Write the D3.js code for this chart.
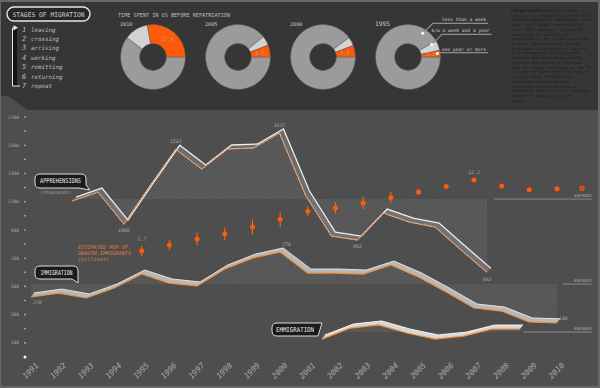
<!DOCTYPE html>
<html><head><meta charset="utf-8">
<script src="https://cdn.jsdelivr.net/npm/d3@7"></script>
<style>body{margin:0;background:#4e4e4e}svg{display:block}</style>
</head><body><svg id="c" width="600" height="388"></svg>
<script>
// ---------------- DATA ----------------
const years = d3.range(1991, 2011);
const stages = ["leaving","crossing","arriving","working","remitting","returning","repeat"];
const donutYears = ["2010","2005","2000","1995"];
const donutGray   = [60.2, 89.3, 89.8, 91.7];
const donutLight  = [12.0, 4.7, 4.4, 5.0];
const donutOrange = [27.8, 6.0, 5.8, 3.3];
const donutLabels = ["27.8","6.0","5.8","5.3"];
const donutKeys = ["less than a week","b/w a week and a year","one year or more"];

const appYears = d3.range(1992, 2009);
const apprehensions = [1161,1224,1000,1266,1523,1385,1525,1532,1637,1203,916,888,1077,1014,979,818,662];
const appAverage = 1175;
const appLabels = [{year:1994,text:"1000",dy:8},{year:1996,text:"1523",dy:-6},{year:2000,text:"1637",dy:-6},{year:2003,text:"992",dy:8},{year:2008,text:"662",dy:9}];

const immigration = [370,405,361,450,574,494,468,619,716,770,583,583,574,654,548,414,272,245,148,140];
const immAverage = 485;
const immLabels = [{year:1991,text:"370",dy:7},{year:2000,text:"770",dy:-6},{year:2010,text:"140",dy:-3}];

const emmYears = d3.range(2002, 2010);
const emmigration = [127,205,227,170,127,148,198,198];
const emmAverage = 177;

const popYears = d3.range(1995, 2011);
const unauthPop = [5.7,6.25,6.8,7.26,7.9,8.6,9.35,9.64,10.1,10.6,11.1,11.6,12.2,11.65,11.3,11.4];
const popError  = [0.46,0.46,0.61,0.6,0.69,0.69,0.46,0.49,0.55,0.5,0.3,0,0,0,0,0];
const popRef = 11.45;
const popLabels = [{year:1995,text:"5.7"},{year:2007,text:"12.2"}];

const yTicks = d3.range(100, 1800, 100);

const noteLines = [
 "reveals a profound decrease in the","inbound numbers of immigrants, both","legal and illegal, particularly",
 "after 2005. However, the overall","population of unauthorized","immigrants in the US has continued",
 "to grow. This disparity can be","attributed to a number of factors.","As a consequence of heightened",
 "security and immigration policy,","migrants are forced to live and","work for longer durations in the US",
 "in order to make worth the risk of","illegal entry. Established","immigrant communities also",
 "perpetuate continued flows of","immigrants into the US as families","attempt to reunite with one","another."];

// ---------------- SCALES ----------------
const xYear = d3.scaleLinear().domain([1991, 2010]).range([31, 557]);
const xApp  = d3.scaleLinear().domain([1992, 2008]).range([72, 487]);
const xEmm  = d3.scaleLinear().domain([2002, 2009]).range([322, 520]);
const yAxisS = d3.scaleLinear().domain([0, 1700]).range([357, 117]);
const yApp  = d3.scaleLinear().domain([0, 1637]).range([367, 133]);
const yImm  = d3.scaleLinear().domain([0, 770]).range([338.6, 252]);
const yEmm  = yAxisS;
const yPop  = d3.scaleLinear().domain([5.7, 12.2]).range([251, 180]);
const xDonut = d3.scaleLinear().domain([0, 3]).range([153, 408]);

const MONO = "'DejaVu Sans Mono', monospace";
const ORANGE = "#ff5a0a";

const svg = d3.select("#c");
const defs = svg.append("defs");
const pat = defs.append("pattern").attr("id","hatch").attr("width",2.4).attr("height",2.4)
  .attr("patternUnits","userSpaceOnUse").attr("patternTransform","rotate(45)");
pat.append("rect").attr("width",2.4).attr("height",2.4).attr("fill","#525252");
pat.append("line").attr("x1",0).attr("y1",0).attr("x2",0).attr("y2",2.4).attr("stroke","#6c6c6c").attr("stroke-width",1.1);

// ---------------- BACKGROUND ----------------
svg.append("rect").attr("width",600).attr("height",388).attr("fill","#686868");
svg.append("rect").attr("x",1).attr("y",2).attr("width",597).attr("height",384).attr("fill","#4e4e4e");
svg.append("path").attr("d","M1,2H598V110H27L8,96H1Z").attr("fill","#363636");

// ---------------- STAGES LEGEND ----------------
svg.append("rect").attr("x",7).attr("y",7).attr("width",83).attr("height",14).attr("rx",7)
  .attr("fill","#262626").attr("stroke","#e6e6e6").attr("stroke-width",1.4);
svg.append("text").attr("x",48.5).attr("y",17).attr("text-anchor","middle").attr("font-family",MONO)
  .attr("font-size",6.4).attr("fill","#cfcfcf").attr("textLength",72).attr("lengthAdjust","spacingAndGlyphs")
  .text("STAGES OF MIGRATION");
svg.append("rect").attr("x",12.5).attr("y",28).attr("width",4.5).attr("height",58).attr("fill","#141414");
svg.append("path").attr("d","M12.5,28V86H20").attr("fill","none").attr("stroke","#e6e6e6").attr("stroke-width",1);
svg.append("path").attr("d","M12.5,28H14").attr("stroke","#e6e6e6").attr("stroke-width",1);
svg.append("path").attr("d","M13.5,25.2L18,27.8L13.5,30.4Z").attr("fill","#f2f2f2");
const yStage = d3.scaleLinear().domain([0,6]).range([31.5,88]);
stages.forEach((s,i)=>{
  svg.append("text").attr("x",22).attr("y",yStage(i)).attr("font-family",MONO).attr("font-style","italic")
    .attr("font-size",7).attr("fill","#bdbdbd").text(i+1);
  svg.append("text").attr("x",31).attr("y",yStage(i)).attr("font-family",MONO).attr("font-style","italic")
    .attr("font-size",5.8).attr("fill","#bdbdbd").text(s);
});

// ---------------- DONUTS ----------------
svg.append("text").attr("x",118).attr("y",17).attr("font-family",MONO).attr("font-size",5.6)
  .attr("fill","#bcbcbc").attr("textLength",112).attr("lengthAdjust","spacingAndGlyphs")
  .text("TIME SPENT IN US BEFORE REPATRIATION");
const pie = d3.pie().sort(null).value(d=>d.v).startAngle(Math.PI/2).endAngle(Math.PI/2 + 2*Math.PI);
const arc = d3.arc().innerRadius(13.4).outerRadius(32.4);
const donutColors = ["#9b9b9b","#d3d3d3",ORANGE];
const keyDotDeg = [32, 62, 83];
const keyDotR = [28, 27, 29.5];
const keyLineY = [23.3, 34.3, 52.7];
const keyLineEnd = [488, 491.5, 488];
donutYears.forEach((yr,i)=>{
  const cx = xDonut(i), cy = 57;
  const g = svg.append("g").attr("transform",`translate(${cx},${cy})`);
  const arcs = pie([{k:0,v:donutGray[i]},{k:1,v:donutLight[i]},{k:2,v:donutOrange[i]}]);
  g.selectAll("path").data(arcs).join("path").attr("d",arc)
    .attr("fill",d=>donutColors[d.data.k]).attr("stroke","#5f5f5f").attr("stroke-width",0.5);
  const c = arc.centroid(arcs[2]);
  g.append("text").attr("x",c[0]).attr("y",c[1]+1.8).attr("text-anchor","middle").attr("font-family",MONO)
    .attr("font-size",5).attr("fill","#a0a0a0").text(donutLabels[i]);
  svg.append("text").attr("x",cx-33).attr("y",cy-31).attr("font-family",MONO)
    .attr("font-size",i===3?6.2:5.2).attr("fill","#c8c8c8").text(yr);
  if (i===3){
    donutKeys.forEach((k,j)=>{
      const a = keyDotDeg[j]*Math.PI/180;
      const px = cx + keyDotR[j]*Math.sin(a), py = cy - keyDotR[j]*Math.cos(a);
      const ex = j<2 ? px + (py-keyLineY[j])*1.0 : px;
      svg.append("path").attr("d",`M${px},${py}L${ex},${keyLineY[j]}H${keyLineEnd[j]}`)
        .attr("fill","none").attr("stroke","#8e8e8e").attr("stroke-width",1.2);
      svg.append("circle").attr("cx",px).attr("cy",py).attr("r",1.5).attr("fill","#fff");
      svg.append("text").attr("x",keyLineEnd[j]-2).attr("y",keyLineY[j]-2).attr("text-anchor","end")
        .attr("font-family",MONO).attr("font-size",4.6).attr("fill","#cfcfcf").text(k);
    });
  }
});

// ---------------- NOTE TEXT ----------------
const note = svg.append("g").attr("font-family",MONO).attr("fill","#1d1d1d");
const t0 = note.append("text").attr("x",511).attr("y",12).attr("font-size",3.8);
t0.append("tspan").attr("font-weight","bold").attr("font-size",4.8).text("Large-scale");
t0.append("tspan").text(" statistic data");
noteLines.forEach((l,i)=>{
  note.append("text").attr("x",511).attr("y",12 + (i+1)*4.72).attr("font-size",3.8).text(l);
});

// ---------------- Y AXIS ----------------
yTicks.forEach(v=>{
  svg.append("circle").attr("cx",25).attr("cy",yAxisS(v)).attr("r",0.8).attr("fill","#d0d0d0");
  if ((v/100)%2===1) svg.append("text").attr("x",19).attr("y",yAxisS(v)+1.6).attr("text-anchor","end")
    .attr("font-family",MONO).attr("font-style","italic").attr("font-size",4.6).attr("fill","#a6a6a6").text(v);
});
svg.append("circle").attr("cx",25).attr("cy",yAxisS(0)).attr("r",1.5).attr("fill","#f4f4f4");

// ---------------- X AXIS ----------------
years.forEach(yr=>{
  const x = xYear(yr)+4, y = 362;
  svg.append("text").attr("x",x).attr("y",y).attr("transform",`rotate(-45 ${x} ${y})`)
    .style("transform",`rotate(-45deg)`).style("transform-origin",`${x}px ${y}px`)
    .attr("text-anchor","end").attr("dominant-baseline","hanging")
    .attr("font-family",MONO).attr("font-style","italic").attr("font-size",7.8)
    .attr("fill","#acacac").text(yr);
});

// ---------------- helpers ----------------
function ribbon(pts, dx, dy, fill, fillOp){
  const top = pts.map(([x,y])=>[x+dx,y+dy]).reverse();
  svg.append("path").attr("d", d3.line()(pts.concat(top))+"Z").attr("fill",fill).attr("fill-opacity",fillOp);
  return pts.map(([x,y])=>[x+dx,y+dy]);
}
function avgLine(x1,x2,y){
  svg.append("line").attr("x1",x1).attr("x2",x2).attr("y1",y).attr("y2",y).attr("stroke","#8a8a8a").attr("stroke-width",1);
  svg.append("text").attr("x",x2).attr("y",y-2).attr("text-anchor","end").attr("font-family",MONO)
    .attr("font-style","italic").attr("font-size",4.3).attr("fill","#a8a8a8").text("AVERAGE");
}
function valueLabel(x,y,t,anchor,col){
  svg.append("text").attr("x",x).attr("y",y).attr("text-anchor",anchor||"middle").attr("font-family",MONO)
    .attr("font-style","italic").attr("font-size",4.8).attr("fill",col||"#a8a8a8").text(t);
}

// ---------------- APPREHENSIONS ----------------
const appData = appYears.map((y,i)=>({year:y,v:apprehensions[i]}));
svg.append("path").attr("d", d3.area().x(d=>xApp(d.year)).y0(yApp(appAverage)).y1(d=>yApp(d.v))(appData))
  .attr("fill","url(#hatch)");
const appPts = appData.map(d=>[xApp(d.year), yApp(d.v)]);
const appTop = ribbon(appPts, 4, -4, "#9a9a9a", 0.4);
svg.append("path").attr("d", d3.line()(appTop)).attr("fill","none").attr("stroke","#ececec").attr("stroke-width",1.3);
svg.append("path").attr("d", d3.line()(appPts)).attr("fill","none").attr("stroke","#d9d0c8").attr("stroke-width",1);
svg.append("path").attr("d", d3.line()(appPts)).attr("fill","none").attr("stroke","#f07a2a").attr("stroke-width",1.1).attr("stroke-dasharray","2,1.6");
avgLine(xApp(2008)+7, 592, yApp(appAverage));
appLabels.forEach(l=>valueLabel(xApp(l.year), yApp(apprehensions[appYears.indexOf(l.year)])+l.dy, l.text));

// ---------------- IMMIGRATION ----------------
const immData = years.map((y,i)=>({year:y,v:immigration[i]}));
svg.append("path").attr("d", d3.area().x(d=>xYear(d.year)).y0(yImm(immAverage)).y1(d=>yImm(d.v))(immData))
  .attr("fill","url(#hatch)");
const immPts = immData.map(d=>[xYear(d.year), yImm(d.v)]);
const immTop = ribbon(immPts, 3, -4, "#bdbdbd", 0.95);
svg.append("path").attr("d", d3.line()(immTop)).attr("fill","none").attr("stroke","#e2e2e2").attr("stroke-width",1);
svg.append("path").attr("d", d3.line()(immPts)).attr("fill","none").attr("stroke","#f0913f").attr("stroke-width",1.2);
avgLine(xYear(2010)+6, 592, yImm(immAverage));
immLabels.forEach(l=>valueLabel(xYear(l.year)+2, yImm(immigration[years.indexOf(l.year)])+l.dy, l.text, "start"));

// ---------------- EMMIGRATION ----------------
const emmData = emmYears.map((y,i)=>({year:y,v:emmigration[i]}));
svg.append("path").attr("d", d3.area().x(d=>xEmm(d.year)).y0(yEmm(emmAverage)).y1(d=>yEmm(d.v))(emmData))
  .attr("fill","url(#hatch)");
const emmPts = emmData.map(d=>[xEmm(d.year), yEmm(d.v)]);
const emmTop = ribbon(emmPts, 3, -4, "#dedede", 0.95);
svg.append("path").attr("d", d3.line()(emmTop)).attr("fill","none").attr("stroke","#f4f4f4").attr("stroke-width",1);
svg.append("path").attr("d", d3.line()(emmPts)).attr("fill","none").attr("stroke","#f0913f").attr("stroke-width",1.2);
avgLine(xEmm(2009)+3, 592, yEmm(emmAverage));

// ---------------- UNAUTHORIZED POPULATION ----------------
popYears.forEach((yr,i)=>{
  const x = xYear(yr), y = yPop(unauthPop[i]);
  if (popError[i]>0) svg.append("line").attr("x1",x).attr("x2",x)
    .attr("y1",yPop(unauthPop[i]-popError[i])).attr("y2",yPop(unauthPop[i]+popError[i]))
    .attr("stroke","#ff6a1a").attr("stroke-width",1);
  svg.append("circle").attr("cx",x).attr("cy",y).attr("r",2.5).attr("fill",ORANGE);
});
{
  const x = xYear(2010)+25, y = yPop(popRef);
  svg.append("circle").attr("cx",x).attr("cy",y).attr("r",2.6).attr("fill",ORANGE);
  svg.append("path").attr("d",`M${x-2.6},${y}H${x+2.6}M${x},${y-2.6}V${y+2.6}`).attr("stroke","#7a3a10").attr("stroke-width",0.6);
}
popLabels.forEach(l=>{
  const i = popYears.indexOf(l.year);
  valueLabel(xYear(l.year), yPop(unauthPop[i]) - (l.year===1995?10:6), l.text, "middle", "#c49070");
});
["ESTIMATED POP OF","UNAUTH.IMMIGRANTS","(millions)"].forEach((t,i)=>{
  svg.append("text").attr("x",78).attr("y",249+i*6).attr("font-family",MONO).attr("font-style","italic")
    .attr("font-size",5.2).attr("fill","#dd7d3a").text(t);
});

// ---------------- CALLOUTS ----------------
function callout(x,y,w,h,text,tail,tl){
  const r=5; let d;
  if (tail==="br") d=`M${x+r},${y}H${x+w-r}Q${x+w},${y} ${x+w},${y+r}V${y+h-3}L${x+w+4},${y+h+2}L${x+w-7},${y+h}H${x+r}Q${x},${y+h} ${x},${y+h-r}V${y+r}Q${x},${y} ${x+r},${y}Z`;
  else if (tail==="bd") d=`M${x+r},${y}H${x+w-r}Q${x+w},${y} ${x+w},${y+r}V${y+h+4}L${x+w-6},${y+h}H${x+r}Q${x},${y+h} ${x},${y+h-r}V${y+r}Q${x},${y} ${x+r},${y}Z`;
  else d=`M${x+r},${y}H${x+w+4}L${x+w},${y+h}H${x+r}Q${x},${y+h} ${x},${y+h-r}V${y+r}Q${x},${y} ${x+r},${y}Z`;
  svg.append("path").attr("d",d).attr("fill","#1b1b1b").attr("stroke","#dcdcdc").attr("stroke-width",1);
  svg.append("text").attr("x",x+w/2).attr("y",y+h/2+2.3).attr("text-anchor","middle").attr("font-family",MONO)
    .attr("font-size",6.6).attr("fill","#f0f0f0").attr("textLength",tl).attr("lengthAdjust","spacingAndGlyphs").text(text);
}
callout(35,174,51,14,"APPREHENSIONS","br",41);
svg.append("text").attr("x",40).attr("y",194).attr("font-family",MONO).attr("font-style","italic")
  .attr("font-size",4.8).attr("fill","#9c9c9c").text("(thousands)");
callout(35,266,43,13,"IMMIGRATION","bd",32);
callout(272,323,46,13,"EMMIGRATION","tr",38);
</script></body></html>
